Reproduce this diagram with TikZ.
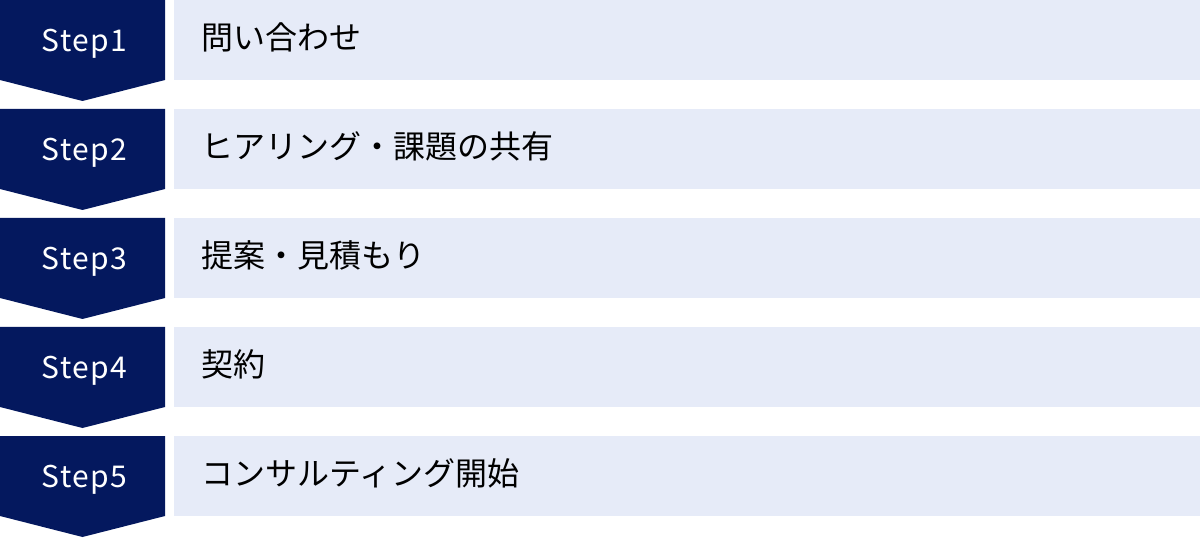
\documentclass[tikz,border=0pt]{standalone}
\usepackage{fontspec}
\setmainfont{Noto Sans}
\newfontfamily\jpfont{Noto Sans CJK JP}
\newfontfamily\stepfont{Noto Sans CJK JP}[LetterSpace=5]
\usetikzlibrary{positioning}
\definecolor{stepnavy}{HTML}{04185E}
\definecolor{boxblue}{HTML}{E6EBF8}

\begin{document}
\begin{tikzpicture}[x=0.75pt, y=-0.75pt,
        steplabel/.style={text=white, anchor=base, font=\stepfont\fontsize{22.5}{22.5}\selectfont},
        stepbox/.style={rectangle, fill=boxblue, anchor=north west, minimum width=769.5pt, minimum height=60pt, inner xsep=20pt, text width=729pt, text depth=6pt, align=left, font=\jpfont\fontsize{24}{24}\selectfont}]
        \useasboundingbox (0,0) rectangle (1200,538);
        % Steps as chevrons with boxes
        \foreach \i/\txt in {1/問い合わせ, 2/ヒアリング・課題の共有, 3/提案・見積もり, 4/契約, 5/コンサルティング開始} {
            \pgfmathsetmacro{\rowy}{(\i-1)*109}
            \fill[stepnavy] (0,\rowy) -- (165,\rowy) -- (165,\rowy+80) -- (82.5,\rowy+101) -- (0,\rowy+80) -- cycle;
            \node[steplabel] (step\i) at (84.5,\rowy+51.3) {Step\i};
            \node[stepbox] (box\i) at (174,\rowy) {\txt};
        }
    \end{tikzpicture}
\end{document}
